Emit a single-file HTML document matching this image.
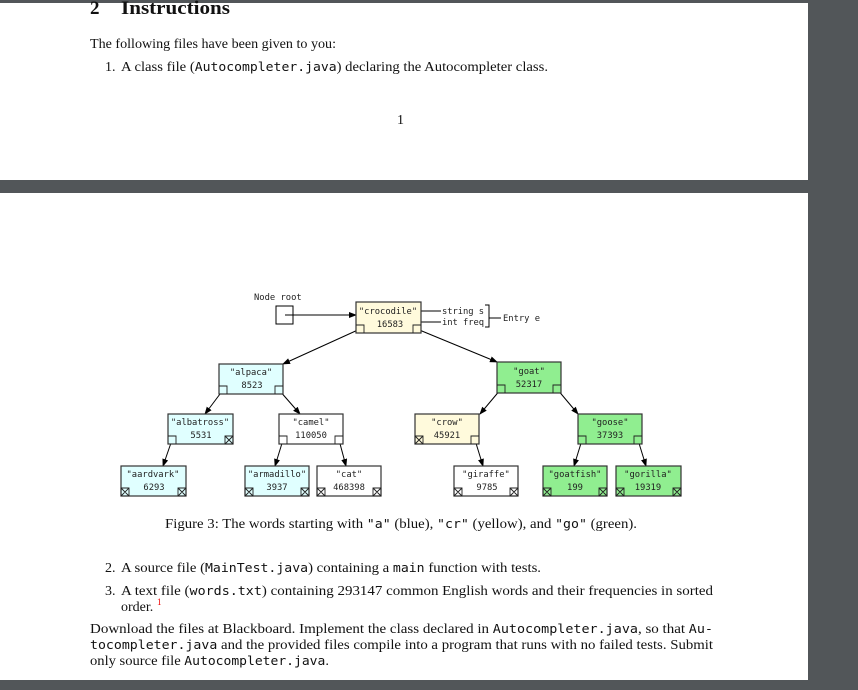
<!DOCTYPE html>
<html><head><meta charset="utf-8"><style>
html,body{margin:0;padding:0;width:858px;height:690px;overflow:hidden;background:#525659}
svg{display:block}
.s{font-family:"Liberation Serif",serif;font-size:14px;fill:#111}
.m{font-family:"DejaVu Sans Mono","Liberation Mono",monospace;font-size:12.5px;fill:#111}
.n{font-family:"DejaVu Sans Mono","Liberation Mono",monospace;font-size:8.8px;fill:#222}
</style></head><body>
<svg width="858" height="690" xmlns="http://www.w3.org/2000/svg">
<defs><marker id="a" markerWidth="8" markerHeight="6" refX="7" refY="3" orient="auto" markerUnits="userSpaceOnUse"><path d="M0,0 L8,3 L0,6 z" fill="#000"/></marker></defs>
<rect x="0" y="0" width="858" height="690" fill="#525659"/>
<rect x="0" y="3" width="808" height="177" fill="#fff"/>
<rect x="0" y="193" width="808" height="487" fill="#fff"/>
<text x="90" y="14" font-family="Liberation Serif" font-size="19" font-weight="bold" fill="#111">2</text>
<text x="121" y="14" font-family="Liberation Serif" font-size="19" font-weight="bold" fill="#111" textLength="109" lengthAdjust="spacingAndGlyphs">Instructions</text>
<text class="s" x="90" y="48" textLength="246" lengthAdjust="spacingAndGlyphs">The following files have been given to you:</text>
<text class="s" x="105" y="71">1.</text>
<text class="s" x="121" y="71" textLength="427" lengthAdjust="spacingAndGlyphs">A class file (<tspan class="m">Autocompleter.java</tspan>) declaring the Autocompleter class.</text>
<text class="s" x="397" y="124">1</text>

<g stroke="#000" stroke-width="1" fill="none">
<rect x="276" y="306" width="17" height="18" fill="#fff"/>
<line x1="285" y1="315" x2="356" y2="315" marker-end="url(#a)"/>
<line x1="416" y1="311" x2="441" y2="311"/>
<line x1="404" y1="322" x2="441" y2="322"/>
<path d="M485,305 H489 V327 H485 M489,318 H501"/>
<line x1="360" y1="329" x2="283" y2="364" marker-end="url(#a)"/>
<line x1="417" y1="329" x2="497" y2="362" marker-end="url(#a)"/>
<line x1="223" y1="390" x2="205" y2="414" marker-end="url(#a)"/>
<line x1="279" y1="390" x2="300" y2="414" marker-end="url(#a)"/>
<line x1="172" y1="440" x2="163" y2="466" marker-end="url(#a)"/>
<line x1="283" y1="440" x2="275" y2="466" marker-end="url(#a)"/>
<line x1="339" y1="440" x2="346" y2="466" marker-end="url(#a)"/>
<line x1="501" y1="389" x2="480" y2="414" marker-end="url(#a)"/>
<line x1="557" y1="389" x2="578" y2="414" marker-end="url(#a)"/>
<line x1="475" y1="440" x2="483" y2="466" marker-end="url(#a)"/>
<line x1="582" y1="440" x2="574" y2="466" marker-end="url(#a)"/>
<line x1="638" y1="440" x2="646" y2="466" marker-end="url(#a)"/>
</g>
<text class="n" x="254" y="300">Node root</text>
<text class="n" x="442" y="314" textLength="42">string s</text>
<text class="n" x="442" y="325" textLength="42">int freq</text>
<text class="n" x="503" y="321">Entry e</text>

<g stroke="#333" stroke-width="1.2">
<rect x="356" y="302" width="65" height="31" fill="#fffadc"/>
<rect x="219" y="364" width="64" height="30" fill="#e0ffff"/>
<rect x="497" y="362" width="64" height="31" fill="#90ee90"/>
<rect x="168" y="414" width="65" height="30" fill="#e0ffff"/>
<rect x="279" y="414" width="64" height="30" fill="#fff"/>
<rect x="415" y="414" width="64" height="30" fill="#fffadc"/>
<rect x="578" y="414" width="64" height="30" fill="#90ee90"/>
<rect x="121" y="466" width="65" height="30" fill="#e0ffff"/>
<rect x="245" y="466" width="64" height="30" fill="#e0ffff"/>
<rect x="317" y="466" width="64" height="30" fill="#fff"/>
<rect x="454" y="466" width="64" height="30" fill="#fff"/>
<rect x="543" y="466" width="64" height="30" fill="#90ee90"/>
<rect x="616" y="466" width="65" height="30" fill="#90ee90"/>
</g>
<g stroke="#222" stroke-width="0.9" fill="none">
<path d="M356,325 h8 v8 M421,325 h-8 v8"/>
<path d="M219,386 h8 v8 M283,386 h-8 v8"/>
<path d="M497,385 h8 v8 M561,385 h-8 v8"/>
<path d="M168,436 h8 v8"/>
<path d="M279,436 h8 v8 M343,436 h-8 v8"/>
<path d="M479,436 h-8 v8"/>
<path d="M578,436 h8 v8 M642,436 h-8 v8"/>
<path d="M225,436 h8 v8 h-8 z l8,8 m0,-8 l-8,8"/>
<path d="M415,436 h8 v8 h-8 z l8,8 m0,-8 l-8,8"/>
<path d="M121,488 h8 v8 h-8 z l8,8 m0,-8 l-8,8 M178,488 h8 v8 h-8 z l8,8 m0,-8 l-8,8"/>
<path d="M245,488 h8 v8 h-8 z l8,8 m0,-8 l-8,8 M301,488 h8 v8 h-8 z l8,8 m0,-8 l-8,8"/>
<path d="M317,488 h8 v8 h-8 z l8,8 m0,-8 l-8,8 M373,488 h8 v8 h-8 z l8,8 m0,-8 l-8,8"/>
<path d="M454,488 h8 v8 h-8 z l8,8 m0,-8 l-8,8 M510,488 h8 v8 h-8 z l8,8 m0,-8 l-8,8"/>
<path d="M543,488 h8 v8 h-8 z l8,8 m0,-8 l-8,8 M599,488 h8 v8 h-8 z l8,8 m0,-8 l-8,8"/>
<path d="M616,488 h8 v8 h-8 z l8,8 m0,-8 l-8,8 M673,488 h8 v8 h-8 z l8,8 m0,-8 l-8,8"/>
</g>
<g class="n" text-anchor="middle">
<text x="388" y="314">"crocodile"</text><text x="390" y="327">16583</text>
<text x="251" y="375">"alpaca"</text><text x="252" y="388">8523</text>
<text x="529" y="374">"goat"</text><text x="529" y="387">52317</text>
<text x="200" y="425">"albatross"</text><text x="201" y="438">5531</text>
<text x="311" y="425">"camel"</text><text x="311" y="438">110050</text>
<text x="447" y="425">"crow"</text><text x="447" y="438">45921</text>
<text x="610" y="425">"goose"</text><text x="610" y="438">37393</text>
<text x="153" y="477">"aardvark"</text><text x="154" y="490">6293</text>
<text x="277" y="477">"armadillo"</text><text x="277" y="490">3937</text>
<text x="349" y="477">"cat"</text><text x="349" y="490">468398</text>
<text x="486" y="477">"giraffe"</text><text x="487" y="490">9785</text>
<text x="575" y="477">"goatfish"</text><text x="575" y="490">199</text>
<text x="648" y="477">"gorilla"</text><text x="648" y="490">19319</text>
</g>

<text class="s" x="165" y="528" textLength="472" lengthAdjust="spacingAndGlyphs">Figure 3: The words starting with <tspan class="m">"a"</tspan> (blue), <tspan class="m">"cr"</tspan> (yellow), and <tspan class="m">"go"</tspan> (green).</text>
<text class="s" x="105" y="572">2.</text>
<text class="s" x="121" y="572" textLength="420" lengthAdjust="spacingAndGlyphs">A source file (<tspan class="m">MainTest.java</tspan>) containing a <tspan class="m">main</tspan> function with tests.</text>
<text class="s" x="105" y="595">3.</text>
<text class="s" x="121" y="595" textLength="592" lengthAdjust="spacingAndGlyphs">A text file (<tspan class="m">words.txt</tspan>) containing 293147 common English words and their frequencies in sorted</text>
<text class="s" x="121" y="611">order.</text>
<text x="157" y="605" font-family="Liberation Serif" font-size="9" fill="#e00">1</text>
<text class="s" x="90" y="633" textLength="623" lengthAdjust="spacingAndGlyphs">Download the files at Blackboard. Implement the class declared in <tspan class="m">Autocompleter.java</tspan>, so that <tspan class="m">Au-</tspan></text>
<text class="s" x="90" y="649" textLength="623" lengthAdjust="spacingAndGlyphs"><tspan class="m">tocompleter.java</tspan> and the provided files compile into a program that runs with no failed tests. Submit</text>
<text class="s" x="90" y="665" textLength="239" lengthAdjust="spacingAndGlyphs">only source file <tspan class="m">Autocompleter.java</tspan>.</text>
</svg>
</body></html>
